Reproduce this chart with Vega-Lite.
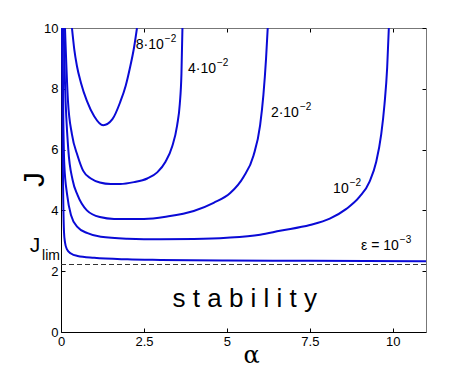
{
  "$schema": "https://vega.github.io/schema/vega-lite/v6.json",
  "autosize": {"type": "none"},
  "width": 365,
  "height": 304,
  "padding": {"left": 61, "top": 28, "right": 48, "bottom": 42},
  "background": "white",
  "config": {
    "view": {"stroke": null},
    "axis": {"grid": false, "labelFont": "Liberation Sans", "labelFontSize": 13, "labelColor": "black", "tickColor": "black", "domainColor": "black", "tickSize": -4, "domainWidth": 1}
  },
  "datasets": {
    "curves": [
      {"eps": "1e-3", "a": 0.03, "J": 10}, {"eps": "1e-3", "a": 0.05, "J": 6}, {"eps": "1e-3", "a": 0.07, "J": 4.2}, {"eps": "1e-3", "a": 0.09, "J": 3.3}, {"eps": "1e-3", "a": 0.12, "J": 2.95}, {"eps": "1e-3", "a": 0.18, "J": 2.72}, {"eps": "1e-3", "a": 0.3, "J": 2.58}, {"eps": "1e-3", "a": 0.5, "J": 2.5}, {"eps": "1e-3", "a": 1, "J": 2.44}, {"eps": "1e-3", "a": 2, "J": 2.39}, {"eps": "1e-3", "a": 3, "J": 2.37}, {"eps": "1e-3", "a": 5, "J": 2.35}, {"eps": "1e-3", "a": 7.5, "J": 2.34}, {"eps": "1e-3", "a": 11, "J": 2.33},
      {"eps": "1e-2", "a": 0.045, "J": 10}, {"eps": "1e-2", "a": 0.07, "J": 7}, {"eps": "1e-2", "a": 0.1, "J": 5.5}, {"eps": "1e-2", "a": 0.18, "J": 4.55}, {"eps": "1e-2", "a": 0.3, "J": 3.85}, {"eps": "1e-2", "a": 0.5, "J": 3.45}, {"eps": "1e-2", "a": 0.8, "J": 3.25}, {"eps": "1e-2", "a": 1.2, "J": 3.13}, {"eps": "1e-2", "a": 2, "J": 3.07}, {"eps": "1e-2", "a": 3, "J": 3.05}, {"eps": "1e-2", "a": 4, "J": 3.06}, {"eps": "1e-2", "a": 5, "J": 3.1}, {"eps": "1e-2", "a": 6, "J": 3.2}, {"eps": "1e-2", "a": 6.6, "J": 3.33}, {"eps": "1e-2", "a": 7.5, "J": 3.52}, {"eps": "1e-2", "a": 8.1, "J": 3.73}, {"eps": "1e-2", "a": 8.6, "J": 4.05}, {"eps": "1e-2", "a": 9.0, "J": 4.45}, {"eps": "1e-2", "a": 9.3, "J": 4.95}, {"eps": "1e-2", "a": 9.5, "J": 5.6}, {"eps": "1e-2", "a": 9.65, "J": 6.5}, {"eps": "1e-2", "a": 9.75, "J": 7.5}, {"eps": "1e-2", "a": 9.83, "J": 8.7}, {"eps": "1e-2", "a": 9.88, "J": 10},
      {"eps": "2e-2", "a": 0.08, "J": 10}, {"eps": "2e-2", "a": 0.12, "J": 8.2}, {"eps": "2e-2", "a": 0.22, "J": 6.0}, {"eps": "2e-2", "a": 0.35, "J": 5.0}, {"eps": "2e-2", "a": 0.5, "J": 4.5}, {"eps": "2e-2", "a": 0.78, "J": 4.0}, {"eps": "2e-2", "a": 1.17, "J": 3.78}, {"eps": "2e-2", "a": 1.6, "J": 3.72}, {"eps": "2e-2", "a": 2.5, "J": 3.72}, {"eps": "2e-2", "a": 3.2, "J": 3.8}, {"eps": "2e-2", "a": 4, "J": 3.98}, {"eps": "2e-2", "a": 4.6, "J": 4.25}, {"eps": "2e-2", "a": 5.1, "J": 4.57}, {"eps": "2e-2", "a": 5.5, "J": 5.1}, {"eps": "2e-2", "a": 5.8, "J": 5.8}, {"eps": "2e-2", "a": 6.0, "J": 6.8}, {"eps": "2e-2", "a": 6.1, "J": 7.8}, {"eps": "2e-2", "a": 6.18, "J": 9}, {"eps": "2e-2", "a": 6.23, "J": 10},
      {"eps": "4e-2", "a": 0.12, "J": 10}, {"eps": "4e-2", "a": 0.21, "J": 7.6}, {"eps": "4e-2", "a": 0.33, "J": 6.5}, {"eps": "4e-2", "a": 0.5, "J": 5.8}, {"eps": "4e-2", "a": 0.67, "J": 5.3}, {"eps": "4e-2", "a": 0.9, "J": 5.05}, {"eps": "4e-2", "a": 1.17, "J": 4.92}, {"eps": "4e-2", "a": 1.5, "J": 4.87}, {"eps": "4e-2", "a": 1.78, "J": 4.87}, {"eps": "4e-2", "a": 2.2, "J": 4.93}, {"eps": "4e-2", "a": 2.6, "J": 5.05}, {"eps": "4e-2", "a": 2.9, "J": 5.25}, {"eps": "4e-2", "a": 3.15, "J": 5.6}, {"eps": "4e-2", "a": 3.35, "J": 6.1}, {"eps": "4e-2", "a": 3.5, "J": 6.8}, {"eps": "4e-2", "a": 3.58, "J": 7.5}, {"eps": "4e-2", "a": 3.63, "J": 8.5}, {"eps": "4e-2", "a": 3.66, "J": 10},
      {"eps": "8e-2", "a": 0.33, "J": 10}, {"eps": "8e-2", "a": 0.4, "J": 9.3}, {"eps": "8e-2", "a": 0.48, "J": 8.75}, {"eps": "8e-2", "a": 0.6, "J": 8.2}, {"eps": "8e-2", "a": 0.78, "J": 7.6}, {"eps": "8e-2", "a": 1.0, "J": 7.1}, {"eps": "8e-2", "a": 1.27, "J": 6.8}, {"eps": "8e-2", "a": 1.55, "J": 7.0}, {"eps": "8e-2", "a": 1.78, "J": 7.55}, {"eps": "8e-2", "a": 1.95, "J": 8.1}, {"eps": "8e-2", "a": 2.08, "J": 8.7}, {"eps": "8e-2", "a": 2.2, "J": 9.35}, {"eps": "8e-2", "a": 2.29, "J": 10}
    ],
    "labels": [
      {"base": "8·10", "exp": "−2", "a": 3.10, "J": 9.31},
      {"base": "4·10", "exp": "−2", "a": 4.67, "J": 8.52},
      {"base": "2·10", "exp": "−2", "a": 7.17, "J": 7.07},
      {"base": "10", "exp": "−2", "a": 8.67, "J": 4.57},
      {"base": "ε = 10", "exp": "−3", "a": 10.18, "J": 2.70}
    ],
    "limit": [{"J": 2.22}]
  },
  "layer": [
    {
      "data": {"name": "curves"},
      "mark": {"type": "line", "interpolate": "monotone", "color": "#0a0ad6", "strokeWidth": 2, "clip": true},
      "encoding": {
        "x": {"field": "a", "type": "quantitative", "scale": {"domain": [0, 11], "nice": false, "zero": false}, "axis": {"orient": "bottom", "values": [0, 2.5, 5, 7.5, 10], "labelExpr": "toString(datum.value)", "labelPadding": 7, "title": "α", "titleFont": "DejaVu Serif", "titleFontSize": 24, "titleFontWeight": "normal", "titleX": 190, "titleY": 30, "titleBaseline": "alphabetic", "titleAlign": "center", "labelFlush": false}},
        "y": {"field": "J", "type": "quantitative", "scale": {"domain": [0, 10], "nice": false}, "axis": {"orient": "left", "values": [0, 2, 4, 6, 8, 10], "labelExpr": "toString(datum.value)", "labelPadding": 7, "title": "J", "titleFont": "Liberation Sans", "titleFontSize": 30, "titleFontWeight": "normal", "titleX": -18, "titleY": 151, "titleAngle": 270, "titleBaseline": "alphabetic", "titleAlign": "center", "labelFlush": false}},
        "detail": {"field": "eps", "type": "nominal"}
      }
    },
    {
      "data": {"name": "limit"},
      "mark": {"type": "rule", "color": "#333", "strokeDash": [5, 3], "strokeWidth": 1.2},
      "encoding": {"y": {"field": "J", "type": "quantitative", "axis": null}}
    },
    {
      "data": {"name": "labels"},
      "mark": {"type": "text", "font": "Liberation Sans", "fontSize": 14, "baseline": "alphabetic", "align": "right", "color": "black"},
      "encoding": {
        "x": {"field": "a", "type": "quantitative", "axis": {"orient": "top", "values": [0, 2.5, 5, 7.5, 10], "labels": false, "title": null, "domainColor": "#777"}},
        "y": {"field": "J", "type": "quantitative", "axis": {"orient": "right", "values": [0, 2, 4, 6, 8, 10], "labels": false, "title": null, "domainColor": "#777"}},
        "text": {"field": "base"}
      }
    },
    {
      "data": {"name": "labels"},
      "mark": {"type": "text", "font": "Liberation Sans", "fontSize": 10, "baseline": "alphabetic", "align": "left", "dx": 1, "dy": -7, "color": "black"},
      "encoding": {
        "x": {"field": "a", "type": "quantitative", "axis": null},
        "y": {"field": "J", "type": "quantitative", "axis": null},
        "text": {"field": "exp"}
      }
    },
    {
      "data": {"values": [{"t": "s t a b i l i t y", "a": 5.54, "J": 0.82}]},
      "mark": {"type": "text", "font": "Liberation Sans", "fontSize": 26, "baseline": "alphabetic", "align": "center", "color": "black"},
      "encoding": {"x": {"field": "a", "type": "quantitative", "axis": null}, "y": {"field": "J", "type": "quantitative", "axis": null}, "text": {"field": "t"}}
    },
    {
      "data": {"values": [{"t": "J", "a": -0.78, "J": 2.63}]},
      "mark": {"type": "text", "font": "Liberation Sans", "fontSize": 21, "baseline": "alphabetic", "align": "center", "color": "black", "clip": false},
      "encoding": {"x": {"field": "a", "type": "quantitative", "axis": null}, "y": {"field": "J", "type": "quantitative", "axis": null}, "text": {"field": "t"}}
    },
    {
      "data": {"values": [{"t": "lim", "a": -0.57, "J": 2.37}]},
      "mark": {"type": "text", "font": "Liberation Sans", "fontSize": 14, "baseline": "alphabetic", "align": "left", "color": "black", "clip": false},
      "encoding": {"x": {"field": "a", "type": "quantitative", "axis": null}, "y": {"field": "J", "type": "quantitative", "axis": null}, "text": {"field": "t"}}
    }
  ],
  "resolve": {"axis": {"x": "independent", "y": "independent"}}
}
